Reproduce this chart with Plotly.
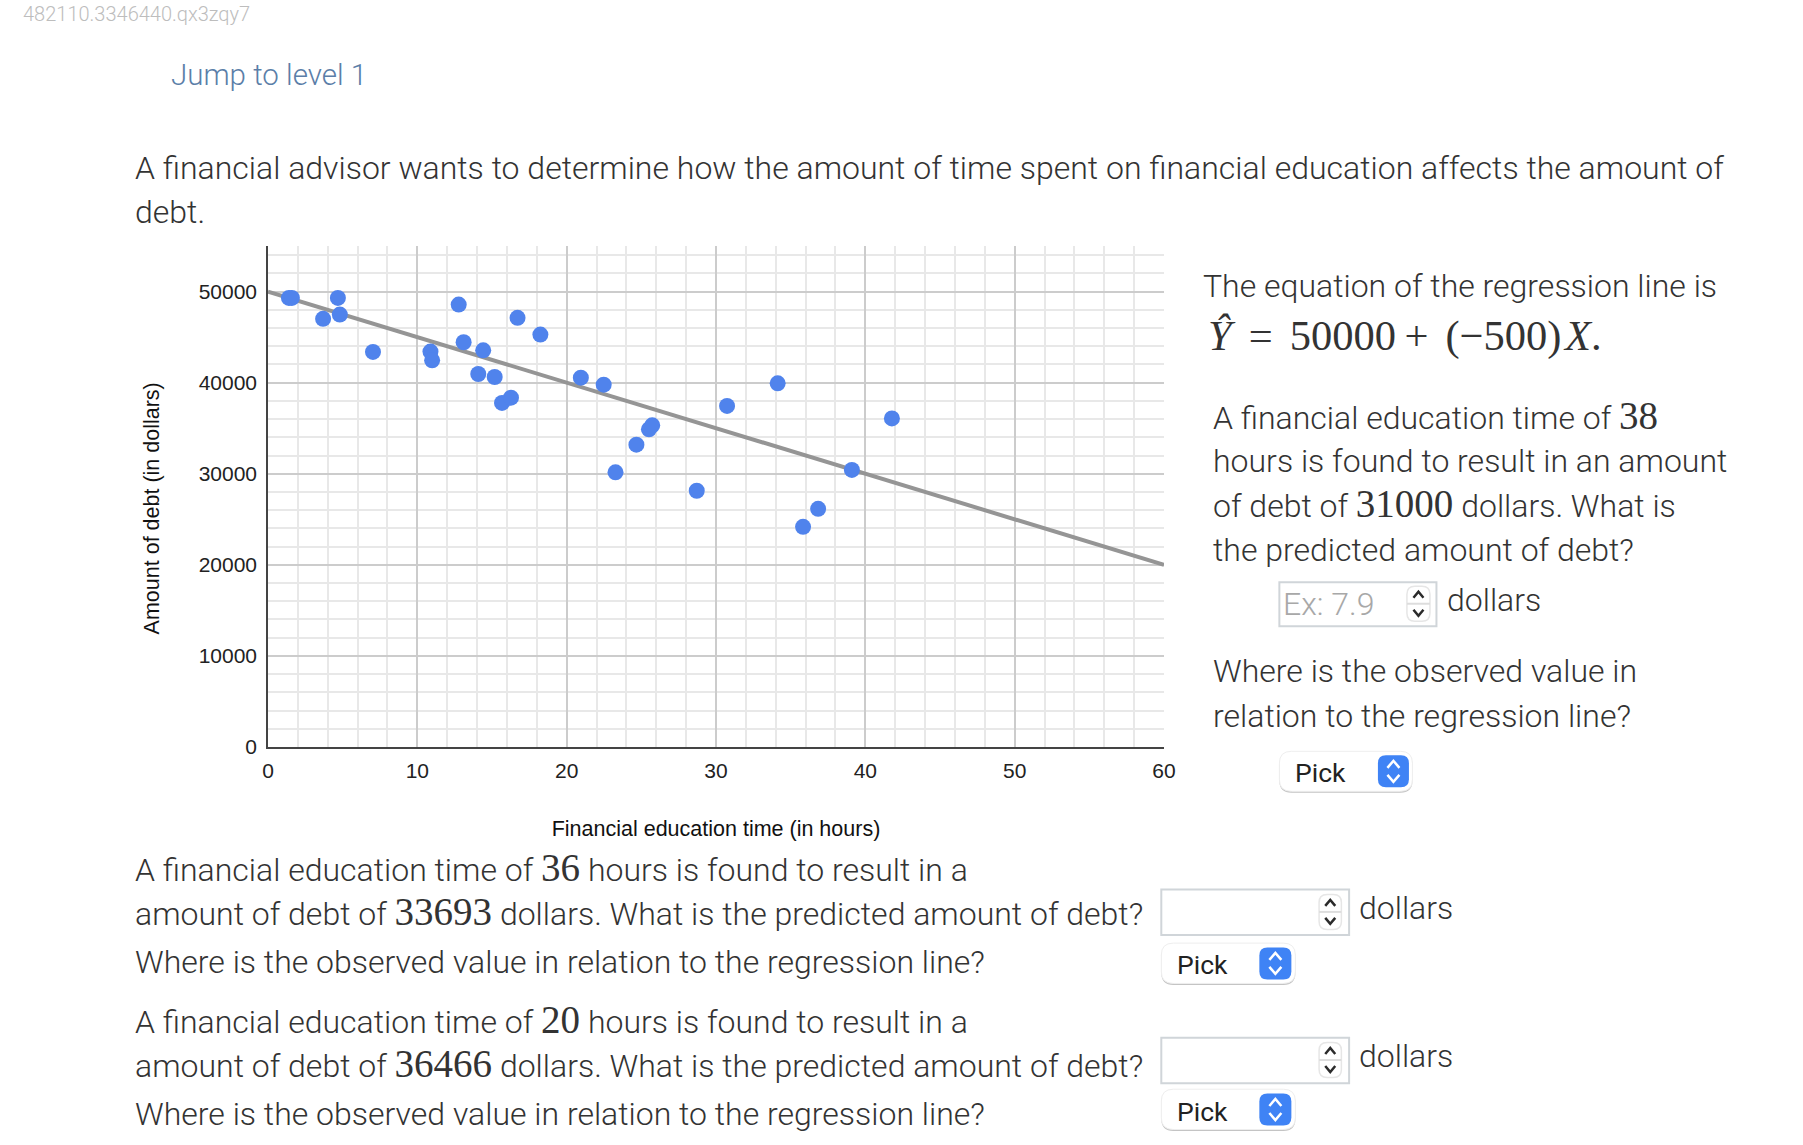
import plotly.graph_objects as go

W = 1803
H = 1145
PLOT_L, PLOT_R, PLOT_T, PLOT_B = 268.2, 1163.7, 246, 746.7

hours = [1.4, 1.6, 3.69, 4.68, 4.81, 7.03, 10.88, 10.99, 12.77, 13.1, 14.41, 14.08, 15.18, 16.71, 18.24,
         15.67, 16.27, 20.95, 22.48, 23.27, 24.67, 25.51, 25.73, 28.71, 30.74, 34.13, 41.78, 39.1, 36.84, 35.83]
debt = [49300, 49300, 47000, 49300, 47470, 43370, 43410, 42450, 48570, 44430, 43550, 40950, 40620, 47110, 45280,
        37770, 38350, 40550, 39780, 30150, 33190, 34870, 35310, 28130, 37440, 39920, 36070, 30420, 26150, 24170]
line_hours = [0, 60]
line_debt = [50000, 20000]

x_title = "Financial education time (in hours)"
y_title = "Amount of debt (in dollars)"
problem_id = "482110.3346440.qx3zqy7"
jump_text = "Jump to level 1"
dollars_text = "dollars"
pick_text = "Pick"
placeholder_text = "Ex: 7.9"

TEXT_FONT = "Roboto"
MATH_FONT = "Liberation Serif"


def m(s):
    return '<span style="font-family:%s;font-size:39px">%s</span>' % (MATH_FONT, s)


# (x, y, text)
body_lines = [
    (133.5, 168, "A financial advisor wants to determine how the amount of time spent on financial education affects the amount of"),
    (133.5, 212, "debt."),
    (1201, 286, "The equation of the regression line is"),
    (1211, 415.5, "A financial education time of " + m("38")),
    (1211, 461, "hours is found to result in an amount"),
    (1211, 503.5, "of debt of " + m("31000") + " dollars. What is"),
    (1211, 549.5, "the predicted amount of debt?"),
    (1211, 671, "Where is the observed value in"),
    (1211, 716, "relation to the regression line?"),
    (133.5, 867.5, "A financial education time of " + m("36") + " hours is found to result in a"),
    (133.5, 911.5, "amount of debt of " + m("33693") + " dollars. What is the predicted amount of debt?"),
    (133.5, 961.5, "Where is the observed value in relation to the regression line?"),
    (133.5, 1019, "A financial education time of " + m("20") + " hours is found to result in a"),
    (133.5, 1063, "amount of debt of " + m("36466") + " dollars. What is the predicted amount of debt?"),
    (133.5, 1113, "Where is the observed value in relation to the regression line?"),
]
equation = '<i>Ŷ</i>\u2009\u2009=\u2009\u200950000\u2009+\u2009\u2009(−500)\u200a<i>X</i>.'


def px(x):
    return (x - PLOT_L) / (PLOT_R - PLOT_L)


def py(y):
    return (PLOT_B - y) / (PLOT_B - PLOT_T)


def label(x, y, text, size=32, color="#333333", family=TEXT_FONT, weight=300):
    fig.add_annotation(x=px(x), y=py(y), xref="paper", yref="paper", text=text, showarrow=False,
                       xanchor="left", yanchor="middle", align="left",
                       font=dict(family=family, size=size, color=color, weight=weight))


def round_rect(x0, y0, x1, y1, r, fill, line=None, width=1):
    a = [(x0 + r, y0), (x1 - r, y0), (x1, y0), (x1, y0 + r), (x1, y1 - r), (x1, y1), (x1 - r, y1), (x0 + r, y1),
         (x0, y1), (x0, y1 - r), (x0, y0 + r), (x0, y0), (x0 + r, y0)]
    p = [(px(u), py(v)) for u, v in a]
    path = "M %f %f L %f %f Q %f %f %f %f L %f %f Q %f %f %f %f L %f %f Q %f %f %f %f L %f %f Q %f %f %f %f Z" % tuple(
        c for pt in p for c in pt)
    fig.add_shape(type="path", xref="paper", yref="paper", path=path, fillcolor=fill,
                  line=dict(color=line if line else fill, width=width if line else 0))


def chevron(cx, cy, w, h, color, width=2):
    # h > 0 points up, h < 0 points down
    path = "M %f %f L %f %f L %f %f" % (px(cx - w), py(cy + h), px(cx), py(cy - h), px(cx + w), py(cy + h))
    fig.add_shape(type="path", xref="paper", yref="paper", path=path, line=dict(color=color, width=width))


def input_box(x0, y0, x1, y1, sx0, sy0, sx1, sy1):
    fig.add_shape(type="rect", xref="paper", yref="paper", x0=px(x0), x1=px(x1), y0=py(y0), y1=py(y1),
                  fillcolor="white", line=dict(color="#d0d5d9", width=2))
    round_rect(sx0, sy0, sx1, sy1, 8, "white", "#e6e6e6", 1.5)
    mid = (sy0 + sy1) / 2
    fig.add_shape(type="line", xref="paper", yref="paper", x0=px(sx0), x1=px(sx1), y0=py(mid), y1=py(mid),
                  line=dict(color="#dddddd", width=2))
    cx = (sx0 + sx1) / 2
    chevron(cx, mid - 9, 5, 3, "#2b2b2b", 2.5)
    chevron(cx, mid + 9, 5, -3, "#2b2b2b", 2.5)


def pick_box(x0, y0, x1, y1, bx0, by0, bx1, by1):
    round_rect(x0, y0 + 1.5, x1, y1 + 1.5, 12, "#c4c4c4")
    round_rect(x0, y0, x1, y1, 12, "white", "#eeeeee", 1)
    round_rect(bx0, by0, bx1, by1, 8, "#3f83f5")
    cx = (bx0 + bx1) / 2
    mid = (by0 + by1) / 2
    chevron(cx, mid - 7, 6, 3.5, "white", 2.5)
    chevron(cx, mid + 7, 6, -3.5, "white", 2.5)
    label(x0 + 14, mid + 1.5, pick_text, size=26.5, color="#222222", weight=400)


fig = go.Figure()
fig.add_trace(go.Scatter(x=line_hours, y=line_debt, mode="lines", line=dict(color="#959595", width=4)))
fig.add_trace(go.Scatter(x=hours, y=debt, mode="markers", marker=dict(color="#5083ec", size=16)))

axis_font = dict(family="Liberation Sans", size=21, color="#222222")
title_font = dict(family="Liberation Sans", size=21.5, color="#111111")
fig.update_xaxes(range=[0, 60], tick0=0, dtick=10, showgrid=True, gridcolor="#cccccc", gridwidth=2,
                 minor=dict(dtick=2, showgrid=True, gridcolor="#e8e8e8", gridwidth=2),
                 zeroline=False, showline=True, linecolor="#444444", linewidth=1.5, ticks="",
                 ticklabelstandoff=4, tickfont=axis_font,
                 title=dict(text=x_title, font=title_font, standoff=40))
fig.update_yaxes(range=[0, 55000], tick0=0, dtick=10000, tickformat="d", showgrid=True, gridcolor="#cccccc", gridwidth=2,
                 minor=dict(dtick=2000, showgrid=True, gridcolor="#e8e8e8", gridwidth=2),
                 zeroline=False, showline=True, linecolor="#444444", linewidth=1.5, ticks="",
                 ticklabelstandoff=5, tickfont=axis_font)
fig.update_layout(width=W, height=H, showlegend=False, paper_bgcolor="white", plot_bgcolor="white",
                  margin=dict(l=PLOT_L, r=W - PLOT_R, t=PLOT_T, b=H - PLOT_B, pad=0))

# y title sits lower than the plot's middle in the original
fig.add_annotation(x=px(152), y=py(508.5), xref="paper", yref="paper", text=y_title, showarrow=False, textangle=-90,
                   xanchor="center", yanchor="middle", font=title_font)

label(21, 14, problem_id, size=20, color="#bdbdbd")
label(169, 75, jump_text, size=29.5, color="#5b7ea8")
for x, y, text in body_lines:
    label(x, y, text)
label(1206, 336, equation, size=42.5, family=MATH_FONT, weight=400)

input_box(1279, 582, 1436, 626, 1406.5, 586, 1429.5, 621)
label(1281, 603.5, placeholder_text, color="#a8a8a8")
label(1445, 600, dollars_text)
pick_box(1279, 751, 1412, 791, 1377.5, 755, 1408.5, 787)

input_box(1161, 889, 1348.7, 934.7, 1318.7, 894, 1341, 929)
label(1357, 908, dollars_text)
pick_box(1161, 942.7, 1295, 983, 1259, 947, 1291, 979)

input_box(1161, 1037.3, 1348.7, 1082.7, 1318.7, 1042, 1341, 1077)
label(1357, 1056, dollars_text)
pick_box(1161, 1088.7, 1295, 1129, 1259, 1093, 1291, 1125)

fig.write_html("out.html", config=dict(displayModeBar=False), post_script="document.body.style.margin='0';")
